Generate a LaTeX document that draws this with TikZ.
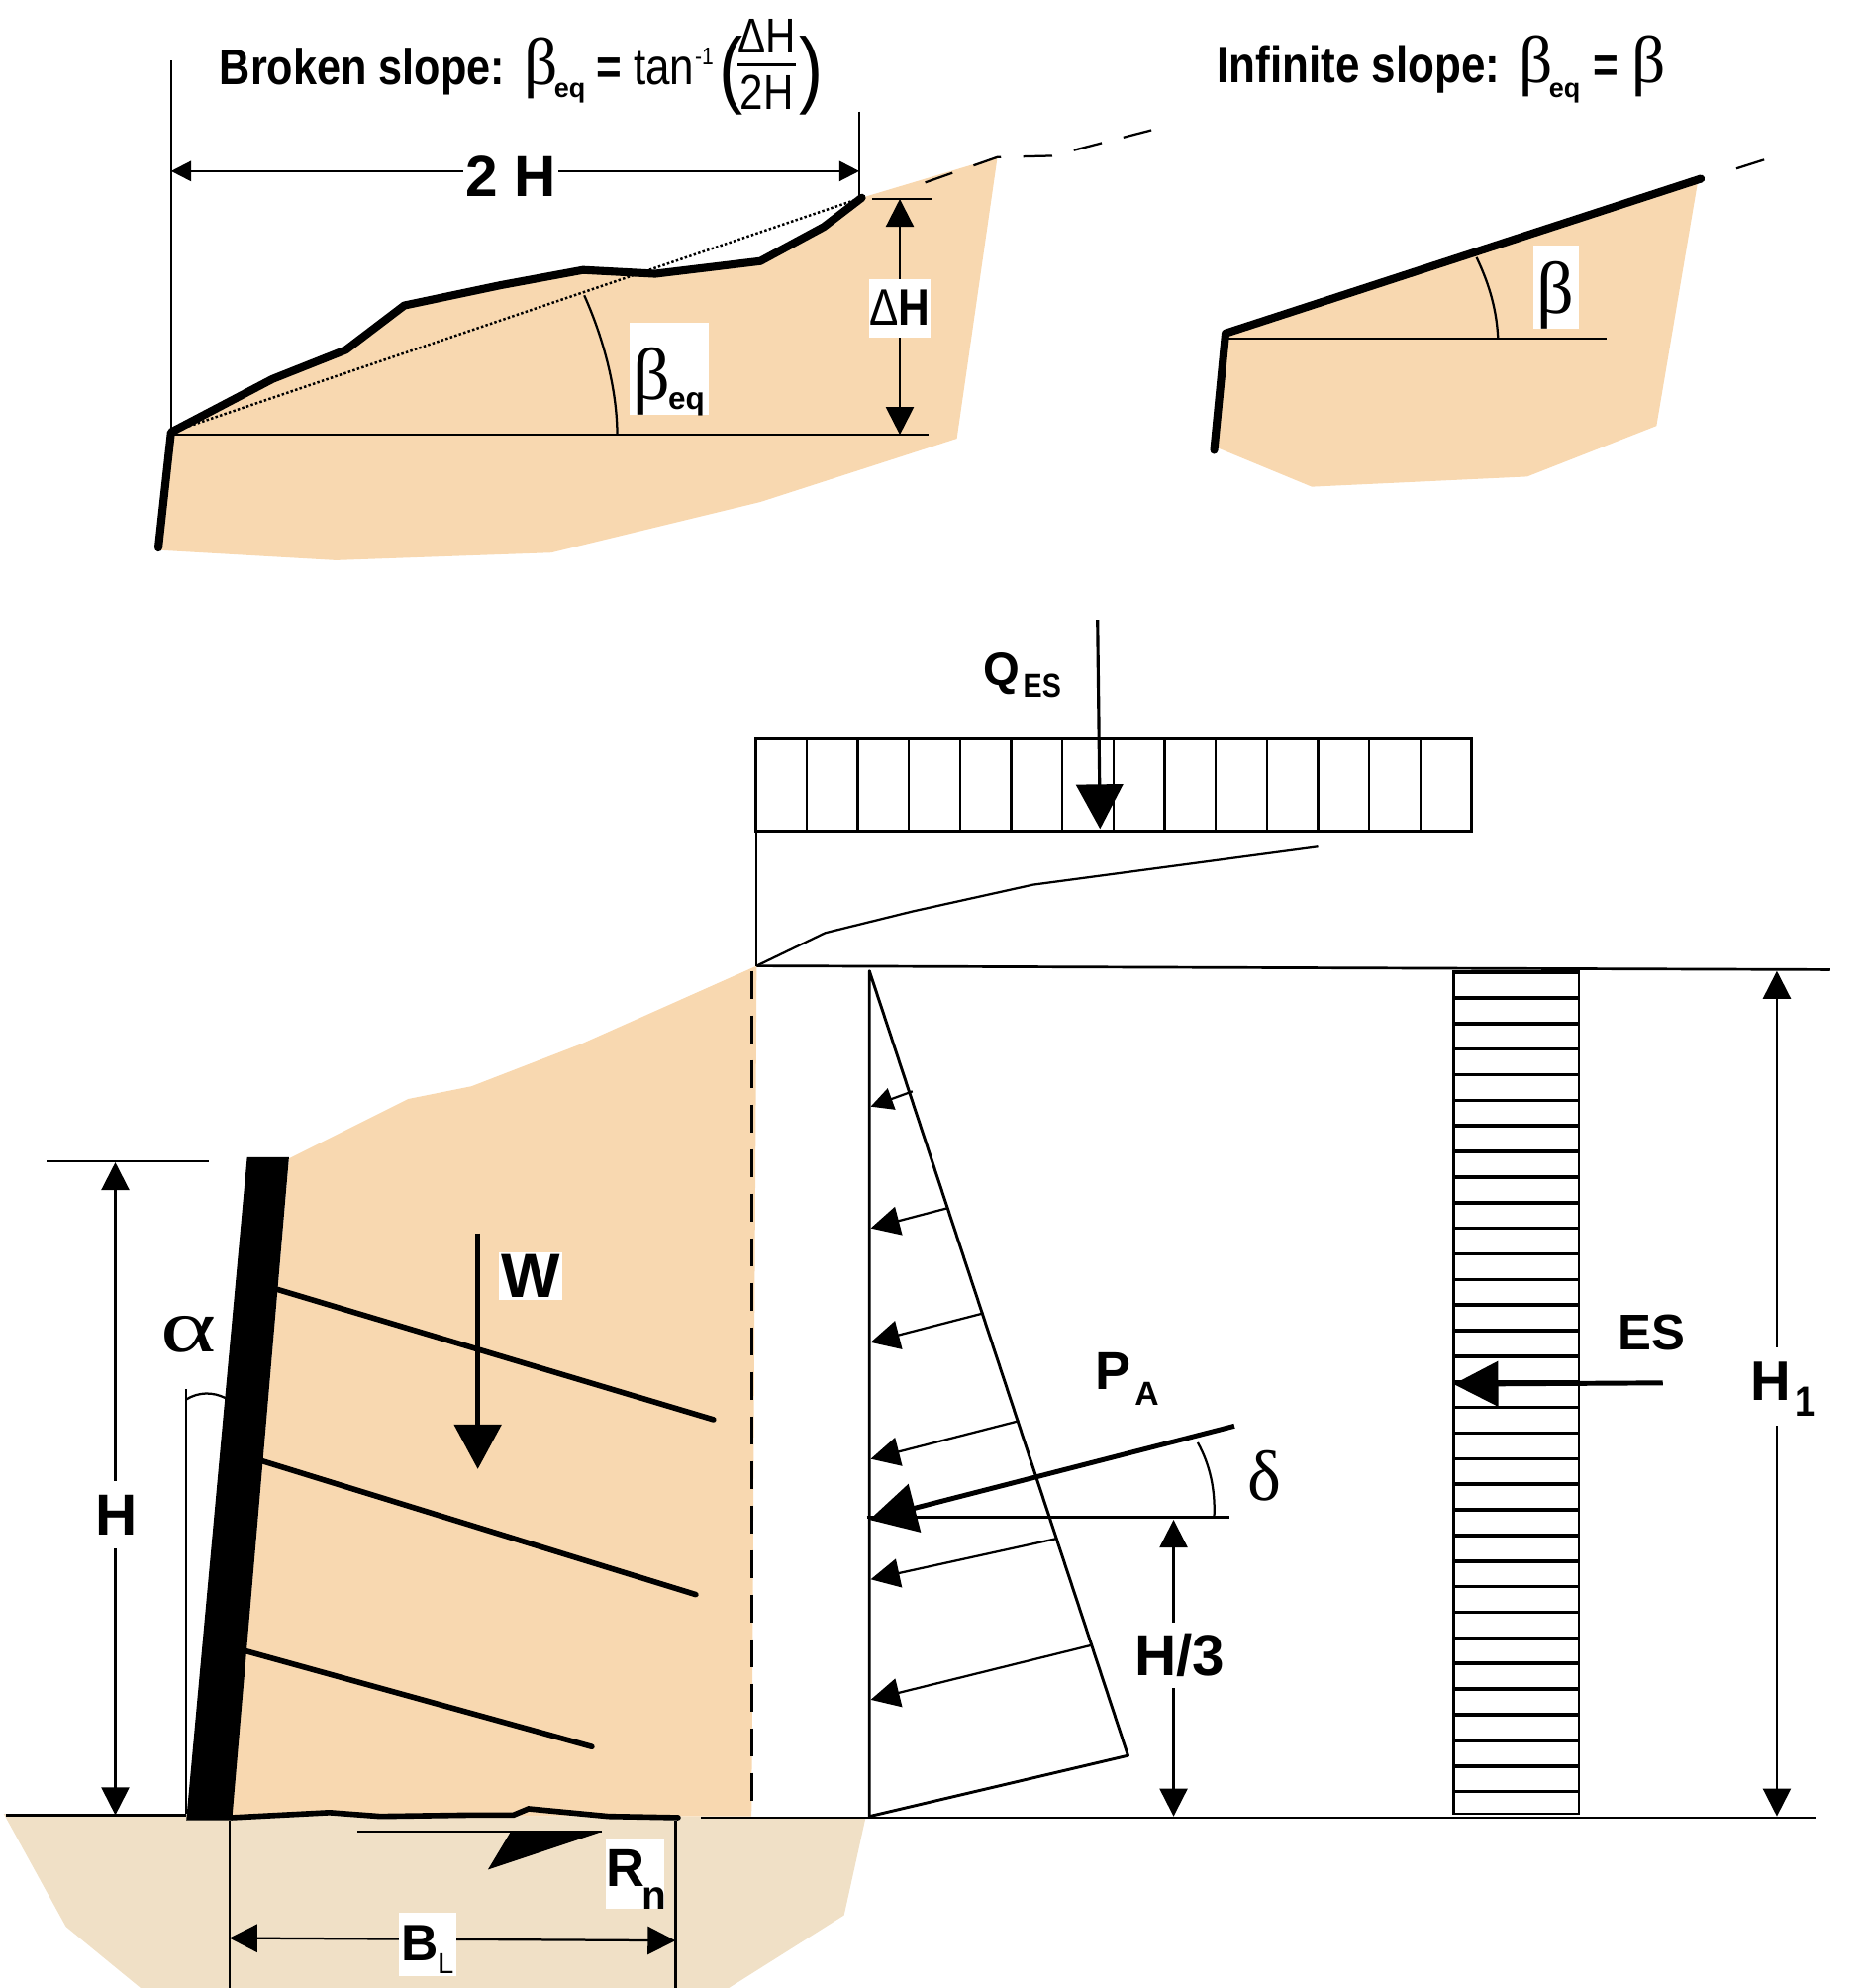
\documentclass[tikz,border=0pt]{standalone}
\usepackage{fontspec}
\setmainfont{Liberation Sans}
\newfontfamily\narrowfont[FakeStretch=0.85]{Liberation Sans}
\newfontfamily\greekfont{Liberation Serif}
\newfontfamily\widegreek[FakeStretch=1.4]{Liberation Serif}
\usetikzlibrary{arrows.meta}
\definecolor{backfill}{HTML}{F8D8B0}
\definecolor{foundation}{HTML}{F0E0C6}
\newcommand{\greek}[2]{{\fontsize{#1}{#1}\selectfont\greekfont #2}}
\begin{document}
\begin{tikzpicture}
		[x=0.02cm,y=-0.02cm,
		thinline/.style={line width=1pt},
		thickline/.style={line width=3.6pt,line join=round,line cap=round},
		rebar/.style={line width=2.5pt,line cap=round},
		dimline/.style={line width=1pt,{Triangle[length=12.5pt,width=12.5pt]}-{Triangle[length=12.5pt,width=12.5pt]}},
		load/.style={line width=1pt,-{Triangle[length=13pt,width=13pt]}},
		force/.style={line width=2pt,-{Triangle[length=20pt,width=21pt]}},
		boxlabel/.style={fill=white,inner sep=1pt,font=\bfseries\fontsize{26}{26}\selectfont},
		title/.style={anchor=base west,inner sep=0pt,font=\narrowfont\bfseries\fontsize{23}{23}\selectfont},
		sub/.style={anchor=base west,inner sep=0pt,font=\bfseries\fontsize{12}{12}\selectfont}]
		\useasboundingbox (0,-1) rectangle (1470,1567.4);
		% soil
		\fill[backfill] (135,340) -- (215,298) -- (273,275) -- (319,240) -- (460,212) -- (517,215) -- (600,205) -- (650,178) -- (680,155) -- (787,123) -- (755,345) -- (600,395) -- (435,435) -- (265,441) -- (125,433) -- cycle;
		\fill[backfill] (967,262) -- (1340,140) -- (1307,335) -- (1205,375) -- (1035,383) -- (960,352) -- cycle;
		\fill[backfill] (228,913) -- (322,866) -- (372,856) -- (460,822) -- (597,761) -- (593,1432) -- (183,1432) -- cycle;
		\fill[foundation] (3,1430) -- (683,1433) -- (666,1510) -- (575,1567.4) -- (111,1567.4) -- (52,1519) -- cycle;
		% broken slope
		\draw[thickline] (125,431) -- (135,340) -- (215,298) -- (273,275) -- (319,240) -- (395,224) -- (460,212) -- (517,215) -- (600,205) -- (650,178) -- (680,155);
		\draw[thinline,dash pattern=on 13pt off 10pt] (730,143) -- (787,123) -- (830,122) -- (915,100);
		\draw[thinline] (135,47) -- (135,340);
		\draw[thinline] (678,87) -- (678,155);
		\draw[line width=1.1pt,densely dotted] (135,340) -- (680,155);
		\draw[thinline] (135,342) -- (733,342);
		\draw[thinline] (688,156) -- (735,156);
		\draw[dimline,{Triangle[length=9pt,width=9pt]}-{Triangle[length=9pt,width=9pt]}] (135,134) -- (678,134);
		\draw[dimline] (710,156) -- (710,342);
		\draw[thinline] (461,232) .. controls (478,270) and (487,310) .. (487,342);
		\node[boxlabel,name=twoh] at (403,138) {2 H};
		\node[fill=white,minimum width=48*0.02cm,minimum height=46*0.02cm,inner sep=0pt,name=deltah,font=\narrowfont\bfseries\fontsize{23}{23}\selectfont] at (710,242) {{\mdseries Δ}H};
		\fill[white] (497,254) rectangle (559,326);
		\node[anchor=base west,inner sep=0pt,name=betaeq] at (499,314) {\greek{33}{β}};
		\node[sub,name=betaeqsub,font=\bfseries\fontsize{14}{14}\selectfont] at (527,322) {eq};
		% infinite slope
		\draw[thickline] (958,354) -- (967,262) -- (1342,140);
		\draw[thinline] (1370,132) -- (1392,125);
		\draw[thinline] (967,266) -- (1268,266);
		\draw[thinline] (1165,202) .. controls (1176,225) and (1181,245) .. (1182,266);
		\fill[white] (1210,193) rectangle (1246,258);
		\node[anchor=base west,inner sep=0pt,name=beta] at (1212,246) {\greek{33}{β}};
		% titles
		\node[title,name=brokentitle,font=\narrowfont\bfseries\fontsize{22.6}{23}\selectfont] at (173,66) {Broken slope:};
		\node[anchor=base west,inner sep=0pt,name=brokenbeta] at (413,66) {\greek{30}{β}};
		\node[sub,name=brokeneq] at (437,76) {eq};
		\node[title,name=brokentan] at (470,66) {= {\mdseries tan}};
		\node[sub,name=brokenexp,font=\narrowfont\mdseries\fontsize{11}{11}\selectfont] at (548,50) {-1};
		\node[anchor=base west,inner sep=0pt,name=brokenleft,font=\narrowfont\fontsize{38}{38}\selectfont] at (567,76) {(};
		\node[anchor=base west,inner sep=0pt,name=brokenright,font=\narrowfont\fontsize{38}{38}\selectfont] at (630,76) {)};
		\node[anchor=base,inner sep=0pt,name=fractop,font=\narrowfont\fontsize{22}{22}\selectfont] at (605,41) {ΔH};
		\node[anchor=base,inner sep=0pt,name=fracbottom,font=\narrowfont\fontsize{22}{22}\selectfont] at (605,85) {2H};
		\draw[line width=1.2pt] (582,50) -- (628,50);
		\node[title,name=infinitetitle] at (960,64) {Infinite slope:};
		\node[anchor=base west,inner sep=0pt,name=infinitebeta] at (1198,64) {\greek{30}{β}};
		\node[sub,name=infiniteeq] at (1222,76) {eq};
		\node[title,name=infiniteequals] at (1257,64) {=};
		\node[anchor=base west,inner sep=0pt,name=infinitebetatwo] at (1287,64) {\greek{30}{β}};
		% wall, reinforcement and base
		\draw[thinline] (147,1095) -- (147,1430);
		\draw[thinline] (147,1103) .. controls (157,1097) and (168,1097) .. (178,1102);
		\fill[black] (195,912) -- (228,912) -- (183,1435) -- (147,1435) -- cycle;
		\draw[rebar] (218,1016) -- (563,1119);
		\draw[rebar] (205,1151) -- (549,1257);
		\draw[rebar] (192,1301) -- (467,1377);
		\draw[rebar] (183,1433) -- (260,1429) -- (300,1432) -- (370,1431) -- (405,1431) -- (417,1426) -- (480,1432) -- (535,1433);
		\draw[thinline] (5,1431) -- (147,1431);
		\draw[thinline] (553,1433) -- (1433,1433);
		\draw[line width=1.2pt,dash pattern=on 12.5pt off 7.5pt] (593,765) -- (593,1430);
		\draw[thinline] (37,915) -- (165,915);
		\draw[dimline] (91,916) -- (91,1431);
		\node[boxlabel,name=hlabel,inner ysep=6pt] at (92,1194) {H};
		\node[anchor=center,inner sep=0pt,name=alpha] at (149,1052) {\fontsize{34}{34}\selectfont\widegreek α};
		\draw[force] (377,972) -- (377,1158);
		\node[boxlabel,name=weight,font=\bfseries\fontsize{28}{28}\selectfont] at (419,1006) {W};
		\draw[thinline] (181,1435) -- (181,1567);
		\draw[thinline] (533,1435) -- (533,1567);
		\draw[thinline] (282,1444) -- (475,1444);
		\fill[black] (475,1444) -- (385,1474) -- (403,1444) -- cycle;
		\draw[dimline] (181,1528) -- (533,1530);
		\fill[white] (478,1450) rectangle (524,1505);
		\node[anchor=base west,inner sep=0pt,name=rn,font=\bfseries\fontsize{24}{24}\selectfont] at (478,1487) {R};
		\node[sub,name=rnsub,font=\bfseries\fontsize{18}{18}\selectfont] at (506,1505) {n};
		\fill[white] (315,1508) rectangle (360,1558);
		\node[anchor=base west,inner sep=0pt,name=bl,font=\bfseries\fontsize{23}{23}\selectfont] at (316,1546) {B};
		\node[sub,name=blsub,font=\mdseries\fontsize{13}{13}\selectfont] at (345,1556) {L};
		% surcharge
		\draw[thinline] (597,600) -- (597,761);
		\draw[line width=1.3pt] (596,581) rectangle (1161,655);
		\foreach \i in {1,...,13}
		{
			\draw[thinline] ({596+\i*40.36},581) -- ({596+\i*40.36},655);
		}
		\draw[force,line width=1.4pt] (866,488) -- (868,653);
		\node[anchor=base west,inner sep=0pt,name=qes,font=\bfseries\fontsize{21}{21}\selectfont] at (776,540) {Q};
		\node[sub,name=qessub,font=\narrowfont\bfseries\fontsize{15}{15}\selectfont] at (807,549) {ES};
		\draw[thinline] (597,761) -- (651,735) -- (720,718) -- (815,697) -- (1040,667);
		\draw[line width=1.2pt] (597,761) -- (1444,764);
		% earth pressure
		\draw[line width=1.3pt,line join=round] (686,765) -- (890,1384) -- (686,1432) -- cycle;
		\draw[load,-{Triangle[length=10pt,width=10pt]}] (720,860) -- (687,872);
		\draw[load] (748,952) -- (687,968);
		\draw[load] (776,1035) -- (687,1058);
		\draw[load] (804,1120) -- (687,1150);
		\draw[load] (833,1213) -- (687,1245);
		\draw[load] (861,1297) -- (687,1340);
		\draw[line width=2.2pt,-{Triangle[length=21pt,width=22pt]}] (974,1124) -- (686,1198);
		\draw[line width=1.2pt] (684,1196) -- (970,1196);
		\draw[thinline] (945,1137) .. controls (955,1155) and (959,1175) .. (958,1196);
		\node[anchor=center,inner sep=0pt,name=delta] at (998,1163) {\greek{32}{δ}};
		\node[anchor=base west,inner sep=0pt,name=pa,font=\bfseries\fontsize{24}{24}\selectfont] at (864,1095) {P};
		\node[sub,name=pasub,font=\bfseries\fontsize{15}{15}\selectfont] at (895,1108) {A};
		\draw[dimline] (926,1198) -- (926,1432);
		\node[boxlabel,name=hthird,inner ysep=5pt] at (931,1305) {H/3};
		% equivalent surcharge
		\foreach \i in {0,...,32}
		{
			\draw[line width=1.6pt] (1147,{766+\i*20.2}) -- (1246,{766+\i*20.2});
		}
		\draw[thinline] (1147,765) rectangle (1246,1430);
		\draw[force,line width=2.2pt,-{Triangle[length=20pt,width=20pt]}] (1312,1090) -- (1147,1091);
		\node[anchor=center,inner sep=0pt,name=es,font=\bfseries\fontsize{22.6}{23}\selectfont] at (1303,1050) {ES};
		\draw[dimline] (1402,765) -- (1402,1432);
		\fill[white] (1378,1062) rectangle (1438,1124);
		\node[anchor=base west,inner sep=0pt,name=hone,font=\bfseries\fontsize{25}{25}\selectfont] at (1381,1104) {H};
		\node[sub,name=honesub,font=\narrowfont\bfseries\fontsize{19}{19}\selectfont] at (1416,1116) {1};
	\end{tikzpicture}
\end{document}
